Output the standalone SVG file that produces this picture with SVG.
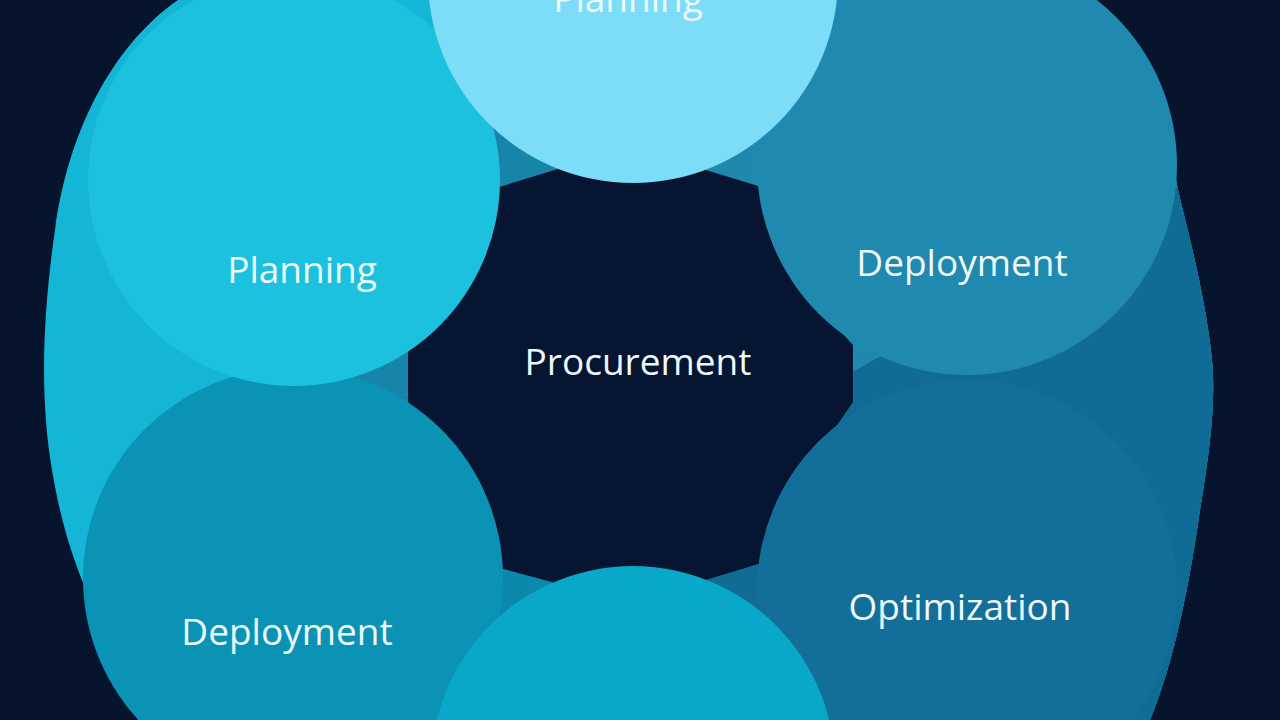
<svg xmlns="http://www.w3.org/2000/svg" width="1280" height="720" viewBox="0 0 1280 720">
  <defs>
    <style>
      .lbl { font-family: "Open Sans", "Noto Sans", "Liberation Sans", sans-serif; font-size: 37px; font-weight: 500; fill: #eef8fb; text-anchor: middle; }
    </style>
    <clipPath id="blobClip">
      <path d="M178,0 C120,40 70,120 55,230 C42,320 40,400 52,470 C62,530 78,580 110,640 L300,720 L1150,720 C1175,660 1190,580 1200,510 C1210,450 1216,400 1212,360 C1206,300 1190,240 1178,190 C1168,130 1150,80 1125,45 C1112,25 1100,10 1085,0 Z"/>
    </clipPath>
    <clipPath id="ringClip">
      <circle cx="630" cy="375" r="290"/>
    </clipPath>
  </defs>

  <rect width="1280" height="720" fill="#06142e"/>

  <g id="backdrop" clip-path="url(#blobClip)">
    <rect x="0" y="0" width="1280" height="720" fill="#15b6d5"/>
    <polygon points="630,0 1280,0 1280,720 630,720" fill="#1d86ab"/>
    <polygon points="630,375 853,372 1240,150 1280,150 1280,720 630,720" fill="#106c95"/>
  </g>

  <g id="ring" clip-path="url(#ringClip)">
    <polygon points="630,375 300,405 300,60 630,60" fill="#1785aa"/>
    <polygon points="630,375 630,60 960,60 960,311 853,372" fill="#1e88ad"/>
    <polygon points="630,375 853,372 960,311 960,700 630,700" fill="#106c95"/>
    <polygon points="630,375 630,700 300,700 300,405" fill="#0c88ac"/>
  </g>

  <g id="center-hub">
    <polygon points="630,147 765,188 800,288 853,345 853,402 820,450 765,562 630,603 496,567 441,450 408,402 408,345 461,288 496,188" fill="#061532"/>
    <text class="lbl" x="638" y="375">Procurement</text>
  </g>

  <g id="node-optimization">
    <circle cx="967" cy="590" r="210" fill="#136f99"/>
    <text class="lbl" x="960" y="620">Optimization</text>
  </g>

  <g id="node-deployment-left">
    <circle cx="293" cy="578" r="210" fill="#0b93b5"/>
    <text class="lbl" x="287" y="645">Deployment</text>
  </g>

  <g id="node-planning-left">
    <circle cx="294" cy="180" r="206" fill="#1cc1de"/>
    <text class="lbl" x="302" y="283">Planning</text>
  </g>

  <g id="node-deployment-right">
    <circle cx="967" cy="165" r="210" fill="#1f89af"/>
    <text class="lbl" x="962" y="276">Deployment</text>
  </g>

  <g id="node-planning-top">
    <circle cx="633" cy="-22" r="205" fill="#7ddcf7"/>
    <text class="lbl" x="628" y="12">Planning</text>
  </g>

  <g id="node-bottom">
    <circle cx="633" cy="768" r="202" fill="#0aa8c8"/>
  </g>

  <g id="connectors"/>
</svg>
